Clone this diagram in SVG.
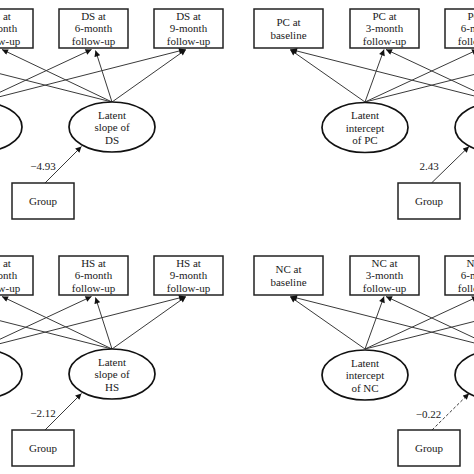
<svg xmlns="http://www.w3.org/2000/svg" width="474" height="474" viewBox="0 0 474 474">
<style>
.bg{fill:#fff}
.box{fill:#fff;stroke:#222;stroke-width:1.5}
.ell{fill:#fff;stroke:#111;stroke-width:1.7}
.t{font-family:"Liberation Serif","Times New Roman",serif;font-size:11px;fill:#1a1a1a;text-anchor:middle}
.c{stroke:#3a3a3a;stroke-width:1;fill:none;marker-end:url(#ah)}
.d{stroke-dasharray:3,2}
</style>
<defs>
<marker id="ah" viewBox="0 0 10 10" refX="10" refY="5" markerWidth="7" markerHeight="6" orient="auto" markerUnits="userSpaceOnUse"><path d="M0,0 L10,5 L0,10 z" fill="#111"/></marker>
</defs>
<rect class="bg" x="0" y="0" width="474" height="474"/>

<!-- ================= TOP LEFT: DS ================= -->
<g id="panel-ds">
<g id="connectors-ds">
<line class="c" x1="112" y1="102" x2="-96" y2="49.5"/>
<line class="c" x1="112" y1="102" x2="2" y2="49.5"/>
<line class="c" x1="112" y1="102" x2="95.5" y2="50.5"/>
<line class="c" x1="112" y1="102" x2="186" y2="49.5"/>
<line class="c" x1="-21" y1="102" x2="91.5" y2="49.5"/>
<line class="c" x1="-21" y1="102" x2="185" y2="49.5"/>
<line class="c" x1="45" y1="183" x2="81.5" y2="146.5"/>
</g>
<g id="ds-3m"><rect class="box" x="-36" y="9" width="69" height="39"/><text class="t" x="-1.5" y="19.5">DS at</text><text class="t" x="-1.5" y="32.3">3-month</text><text class="t" x="-1.5" y="45">follow-up</text></g>
<g id="ds-6m"><rect class="box" x="59" y="9" width="69" height="39"/><text class="t" x="93.5" y="19.5">DS at</text><text class="t" x="93.5" y="32.3">6-month</text><text class="t" x="93.5" y="45">follow-up</text></g>
<g id="ds-9m"><rect class="box" x="154" y="9" width="69" height="39"/><text class="t" x="188.5" y="19.5">DS at</text><text class="t" x="188.5" y="32.3">9-month</text><text class="t" x="188.5" y="45">follow-up</text></g>
<g id="ds-intercept"><ellipse class="ell" cx="-21" cy="127" rx="43" ry="25"/></g>
<g id="ds-slope"><ellipse class="ell" cx="112" cy="127" rx="43" ry="25"/><text class="t" x="112" y="118.5">Latent</text><text class="t" x="112" y="131">slope of</text><text class="t" x="112" y="143.5">DS</text></g>
<g id="ds-group"><rect class="box" x="12" y="183" width="62" height="36"/><text class="t" x="43" y="204.5">Group</text></g>
<text class="t" x="43" y="169.5">−4.93</text>
</g>

<!-- ================= TOP RIGHT: PC ================= -->
<g id="panel-pc">
<g id="connectors-pc">
<line class="c" x1="365" y1="102" x2="290" y2="49.5"/>
<line class="c" x1="365" y1="102" x2="384" y2="49.5"/>
<line class="c" x1="365" y1="102" x2="478" y2="49.5"/>
<line class="c" x1="365" y1="102" x2="573" y2="49.5"/>
<line class="c" x1="498" y1="102" x2="291" y2="49.5"/>
<line class="c" x1="498" y1="102" x2="386" y2="49.5"/>
<line class="c" x1="498" y1="102" x2="481" y2="49.5"/>
<line class="c" x1="431.5" y1="183" x2="469" y2="146.5"/>
</g>
<g id="pc-base"><rect class="box" x="254" y="9" width="69" height="39"/><text class="t" x="288.5" y="26">PC at</text><text class="t" x="288.5" y="38.7">baseline</text></g>
<g id="pc-3m"><rect class="box" x="350" y="9" width="69" height="39"/><text class="t" x="384.5" y="19.5">PC at</text><text class="t" x="384.5" y="32.3">3-month</text><text class="t" x="384.5" y="45">follow-up</text></g>
<g id="pc-6m"><rect class="box" x="445" y="9" width="69" height="39"/><text class="t" x="479.5" y="19.5">PC at</text><text class="t" x="479.5" y="32.3">6-month</text><text class="t" x="479.5" y="45">follow-up</text></g>
<g id="pc-intercept"><ellipse class="ell" cx="365" cy="127.5" rx="43" ry="25"/><text class="t" x="365" y="119">Latent</text><text class="t" x="365" y="131.5">intercept</text><text class="t" x="365" y="144">of PC</text></g>
<g id="pc-slope"><ellipse class="ell" cx="498" cy="127.5" rx="43" ry="25"/></g>
<g id="pc-group"><rect class="box" x="398" y="183" width="62" height="36"/><text class="t" x="429" y="204.5">Group</text></g>
<text class="t" x="429" y="170">2.43</text>
</g>

<!-- ================= BOTTOM LEFT: HS ================= -->
<g id="panel-hs" transform="translate(0,247)">
<g id="connectors-hs">
<line class="c" x1="112" y1="102" x2="-96" y2="49.5"/>
<line class="c" x1="112" y1="102" x2="2" y2="49.5"/>
<line class="c" x1="112" y1="102" x2="95.5" y2="50.5"/>
<line class="c" x1="112" y1="102" x2="186" y2="49.5"/>
<line class="c" x1="-21" y1="102" x2="91.5" y2="49.5"/>
<line class="c" x1="-21" y1="102" x2="185" y2="49.5"/>
<line class="c" x1="45" y1="183" x2="81.5" y2="146.5"/>
</g>
<g id="hs-3m"><rect class="box" x="-36" y="9" width="69" height="39"/><text class="t" x="-1.5" y="19.5">HS at</text><text class="t" x="-1.5" y="32.3">3-month</text><text class="t" x="-1.5" y="45">follow-up</text></g>
<g id="hs-6m"><rect class="box" x="59" y="9" width="69" height="39"/><text class="t" x="93.5" y="19.5">HS at</text><text class="t" x="93.5" y="32.3">6-month</text><text class="t" x="93.5" y="45">follow-up</text></g>
<g id="hs-9m"><rect class="box" x="154" y="9" width="69" height="39"/><text class="t" x="188.5" y="19.5">HS at</text><text class="t" x="188.5" y="32.3">9-month</text><text class="t" x="188.5" y="45">follow-up</text></g>
<g id="hs-intercept"><ellipse class="ell" cx="-21" cy="127" rx="43" ry="25"/></g>
<g id="hs-slope"><ellipse class="ell" cx="112" cy="127" rx="43" ry="25"/><text class="t" x="112" y="118.5">Latent</text><text class="t" x="112" y="131">slope of</text><text class="t" x="112" y="143.5">HS</text></g>
<g id="hs-group"><rect class="box" x="12" y="183" width="62" height="36"/><text class="t" x="43" y="204.5">Group</text></g>
<text class="t" x="43" y="169.5">−2.12</text>
</g>

<!-- ================= BOTTOM RIGHT: NC ================= -->
<g id="panel-nc" transform="translate(0,247)">
<g id="connectors-nc">
<line class="c" x1="365" y1="102" x2="290" y2="49.5"/>
<line class="c" x1="365" y1="102" x2="384" y2="49.5"/>
<line class="c" x1="365" y1="102" x2="478" y2="49.5"/>
<line class="c" x1="365" y1="102" x2="573" y2="49.5"/>
<line class="c" x1="498" y1="102" x2="291" y2="49.5"/>
<line class="c" x1="498" y1="102" x2="386" y2="49.5"/>
<line class="c" x1="498" y1="102" x2="481" y2="49.5"/>
<line class="c d" x1="432" y1="183" x2="469" y2="146.5"/>
</g>
<g id="nc-base"><rect class="box" x="254" y="9" width="69" height="39"/><text class="t" x="288.5" y="26">NC at</text><text class="t" x="288.5" y="38.7">baseline</text></g>
<g id="nc-3m"><rect class="box" x="350" y="9" width="69" height="39"/><text class="t" x="384.5" y="19.5">NC at</text><text class="t" x="384.5" y="32.3">3-month</text><text class="t" x="384.5" y="45">follow-up</text></g>
<g id="nc-6m"><rect class="box" x="445" y="9" width="69" height="39"/><text class="t" x="479.5" y="19.5">NC at</text><text class="t" x="479.5" y="32.3">6-month</text><text class="t" x="479.5" y="45">follow-up</text></g>
<g id="nc-intercept"><ellipse class="ell" cx="365" cy="128" rx="43" ry="25"/><text class="t" x="365" y="119.5">Latent</text><text class="t" x="365" y="132">intercept</text><text class="t" x="365" y="144.5">of NC</text></g>
<g id="nc-slope"><ellipse class="ell" cx="498" cy="128" rx="43" ry="25"/></g>
<g id="nc-group"><rect class="box" x="398" y="183" width="62" height="36"/><text class="t" x="429" y="204.5">Group</text></g>
<text class="t" x="428.5" y="170.5">−0.22</text>
</g>
</svg>
